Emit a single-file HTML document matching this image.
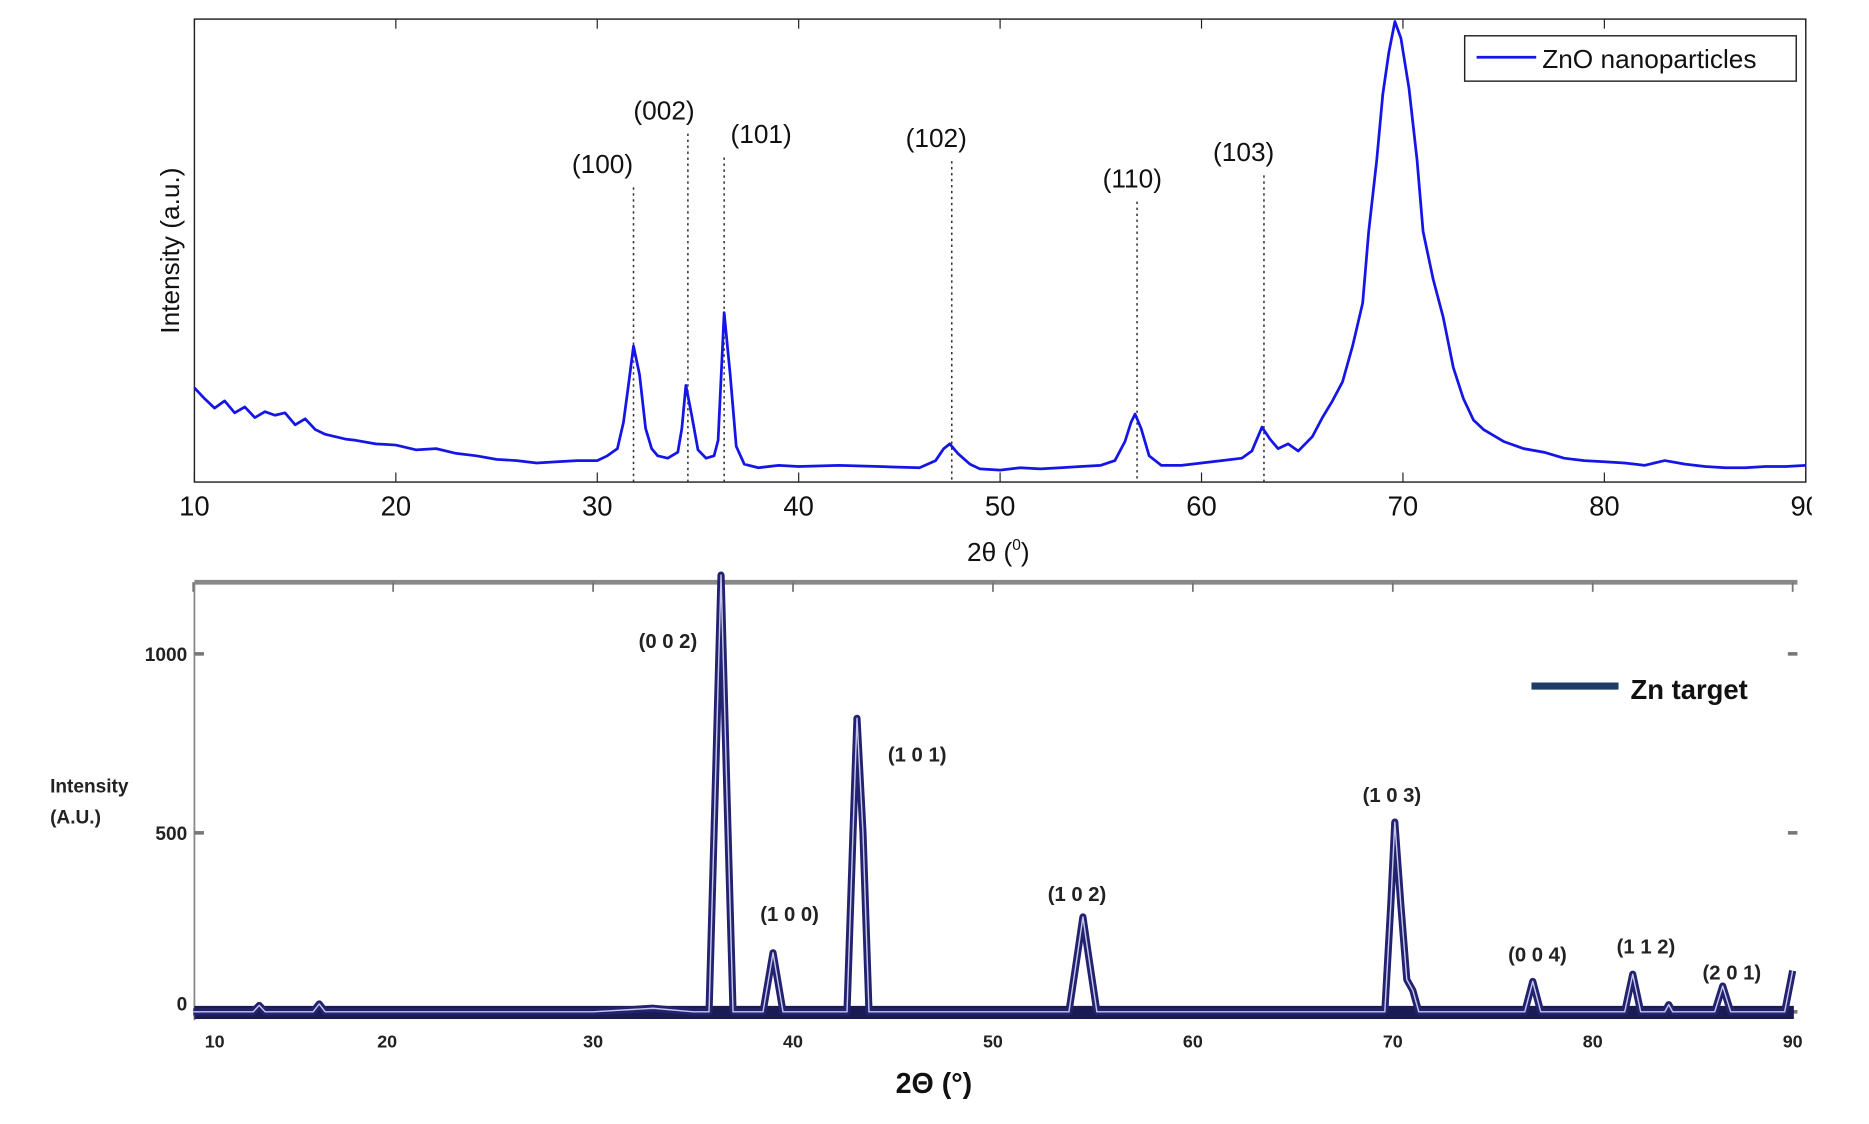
<!DOCTYPE html>
<html><head><meta charset="utf-8"><style>
html,body{margin:0;padding:0;background:#fff;overflow:hidden}
svg{display:block}
text{font-family:"Liberation Sans",sans-serif}
</style></head><body>
<svg id="c" width="1869" height="1124" viewBox="0 0 1567 942" preserveAspectRatio="none">
<rect x="0" y="0" width="1567" height="942" fill="#fff"/>
<g id="top"></g>
<g id="bot"></g>
</svg>
<script>
// ---- Top panel data (ZnO nanoparticles), intensity a.u. (0..388 scale)
const topX = [10,10.5,11,11.5,12,12.5,13,13.5,14,14.5,15,15.5,16,16.5,17,17.5,18,19,20,21,22,23,24,25,26,27,28,29,30,30.5,31,31.3,31.5,31.8,32.1,32.4,32.7,33,33.5,34,34.2,34.4,34.7,35,35.4,35.8,36,36.3,36.6,36.9,37.3,38,39,40,42,44,46,46.8,47.2,47.5,47.9,48.5,49,50,51,52,53,54,55,55.7,56.2,56.5,56.7,57,57.4,58,59,60,61,62,62.5,63,63.4,63.8,64.3,64.8,65.5,66,66.5,67,67.5,68,68.3,68.7,69,69.3,69.6,69.9,70.3,70.7,71,71.5,72,72.5,73,73.5,74,75,76,77,78,79,80,81,81.5,82,83,84,85,86,87,88,89,90];
const topY = [79,70,62,68,58,63,54,59,56,58,48,53,44,40,38,36,35,32,31,27,28,24,22,19,18,16,17,18,18,22,28,50,75,114,90,45,28,22,20,25,45,81,55,27,20,22,35,142,90,30,15,12,14,13,14,13,12,18,28,32,24,15,11,10,12,11,12,13,14,18,34,50,57,45,22,14,14,16,18,20,26,46,36,28,32,26,38,54,68,84,114,150,210,270,325,360,386,372,330,270,210,170,138,96,70,52,44,34,28,25,20,18,17,16,15,14,18,15,13,12,12,13,13,14,18];
const topTicks = [10,20,30,40,50,60,70,80,90];
const topPeakLabels = ["(100)","(002)","(101)","(102)","(110)","(103)"];
const topPeakPos = [31.8,34.5,36.3,47.6,56.8,63.1];
const topLabelTop = [145,100,120,123,157,135];
const topLabelShift = [-26,-20,31,-13,-4,-17];
// ---- Bottom panel data (Zn target), counts
const botX = [10,13,13.3,13.6,16,16.3,16.6,20,30,33,35,35.8,36.1,36.4,36.7,37,38.5,39,39.5,41,42.7,43,43.2,43.5,43.8,45,53.8,54.2,54.5,54.8,55.2,60,69.6,69.9,70.1,70.4,70.7,71,71.3,75,76.6,77,77.4,81.6,82,82.4,83.6,83.8,84,86.1,86.5,86.9,89.6,90];
const botY = [0,0,18,0,0,22,0,0,0,10,0,0,600,1220,600,0,0,165,0,0,0,500,820,500,0,0,0,150,265,150,0,0,0,300,530,300,90,60,0,0,0,85,0,0,105,0,0,20,0,0,72,0,0,115];
const botTicks = [10,20,30,40,50,60,70,80,90];
const botYTicks = [0,500,1000];
const botPeakLabels = ["(0 0 2)","(1 0 0)","(1 0 1)","(1 0 2)","(1 0 3)","(0 0 4)","(1 1 2)","(2 0 1)"];
const botPeakLX = [560,662,769,903,1167,1289,1380,1452];
const botPeakLY = [543,772,638,755,672,806,799,821];

const NS="http://www.w3.org/2000/svg";
function mk(p,t,a){const e=document.createElementNS(NS,t);for(const k in a)e.setAttribute(k,a[k]);p.appendChild(e);return e;}
const tx=v=>163+(v-10)/80*1351, ty=c=>404-c;
const T=document.getElementById('top');
let e=mk(T,'rect',{x:163,y:16,width:1351,height:388,fill:'#fff',stroke:'#222','stroke-width':1.2});

topTicks.forEach(v=>{
  mk(T,'line',{x1:tx(v),x2:tx(v),y1:404,y2:396,stroke:'#222'});
  mk(T,'line',{x1:tx(v),x2:tx(v),y1:16,y2:24,stroke:'#222'});
  const t=mk(T,'text',{x:tx(v),y:432,'font-size':23,'text-anchor':'middle',fill:'#111'});t.textContent=v;
  
});
topPeakPos.forEach((p,i)=>{
  const l=mk(T,'line',{x1:tx(p),x2:tx(p),y1:topLabelTop[i]+12,y2:404,stroke:'#333','stroke-width':1.3,'stroke-dasharray':'2,3'});
  
  const t=mk(T,'text',{x:tx(p)+topLabelShift[i],y:topLabelTop[i],'font-size':22,'text-anchor':'middle',fill:'#111'});t.textContent=topPeakLabels[i];
  
});
let pl=mk(T,'polyline',{points:topX.map((x,i)=>tx(x)+','+ty(topY[i])).join(' '),fill:'none',stroke:'#1515e6','stroke-width':2.3,'stroke-linejoin':'round'});

let t=mk(T,'text',{x:837,y:470,'font-size':22,'text-anchor':'middle',fill:'#111'});t.innerHTML='2θ (<tspan dy="-9" font-size="13">0</tspan><tspan dy="9">)</tspan>';

t=mk(T,'text',{x:150,y:210,'font-size':22,'text-anchor':'middle',fill:'#111',transform:'rotate(-90 150 210)'});t.textContent='Intensity (a.u.)';

const lg=mk(T,'g',{});
mk(lg,'rect',{x:1228,y:30,width:278,height:38,fill:'#fff',stroke:'#222','stroke-width':1.2});
mk(lg,'line',{x1:1238,x2:1288,y1:48,y2:48,stroke:'#1515e6','stroke-width':2.3});
t=mk(lg,'text',{x:1293,y:57,'font-size':22,fill:'#111'});t.textContent='ZnO nanoparticles';
mk(T,'rect',{x:1519,y:405,width:48,height:40,fill:'#fff'});

const bx=v=>162+(v-10)/80*1341, by=c=>848-c*0.3;
const B=document.getElementById('bot');
e=mk(B,'line',{x1:163,x2:1507,y1:488,y2:488,stroke:'#888','stroke-width':4});

mk(B,'line',{x1:163,x2:163,y1:488,y2:855,stroke:'#888','stroke-width':1.5});
botTicks.forEach(v=>{
  mk(B,'line',{x1:bx(v),x2:bx(v),y1:488,y2:496,stroke:'#777','stroke-width':1.5});
  const tt=mk(B,'text',{x:bx(v)+(v===10?18:v===20?-5:0),y:878,'font-size':15,'font-weight':'bold','text-anchor':'middle',fill:'#222'});tt.textContent=v;
  
});
botYTicks.forEach(v=>{
  mk(B,'line',{x1:163,x2:171,y1:by(v),y2:by(v),stroke:'#777','stroke-width':3});
  mk(B,'line',{x1:1499,x2:1507,y1:by(v),y2:by(v),stroke:'#777','stroke-width':3});
  const tt=mk(B,'text',{x:157,y:by(v)+(v===0?-1:6),'font-size':16,'font-weight':'bold','text-anchor':'end',fill:'#222'});tt.textContent=v;
  
});
e=mk(B,'rect',{x:163,y:843,width:1341,height:11,fill:'#1a1a55'});

const pts=botX.map((x,i)=>bx(x)+','+by(botY[i])).join(' ');
pl=mk(B,'polyline',{points:pts,fill:'none',stroke:'#22226e','stroke-width':6,'stroke-linejoin':'round'});

mk(B,'polyline',{points:pts,fill:'none',stroke:'#c8c8ee','stroke-width':1.2,'stroke-linejoin':'round'});
botPeakLabels.forEach((s,i)=>{
  const tt=mk(B,'text',{x:botPeakLX[i],y:botPeakLY[i],'font-size':17,'font-weight':'bold','text-anchor':'middle',fill:'#222'});tt.textContent=s;
  
});
t=mk(B,'text',{x:783,y:916,'font-size':24,'font-weight':'bold','text-anchor':'middle',fill:'#111'});t.textContent='2Θ (°)';

t=mk(B,'text',{x:42,y:664,'font-size':16,'font-weight':'bold',fill:'#222'});t.textContent='Intensity';

t=mk(B,'text',{x:42,y:690,'font-size':16,'font-weight':'bold',fill:'#222'});t.textContent='(A.U.)';
const lg2=mk(B,'g',{});
mk(lg2,'line',{x1:1284,x2:1357,y1:575,y2:575,stroke:'#1f3c64','stroke-width':6});
t=mk(lg2,'text',{x:1367,y:586,'font-size':23,'font-weight':'bold',fill:'#111'});t.textContent='Zn target';
</script>
</body></html>
